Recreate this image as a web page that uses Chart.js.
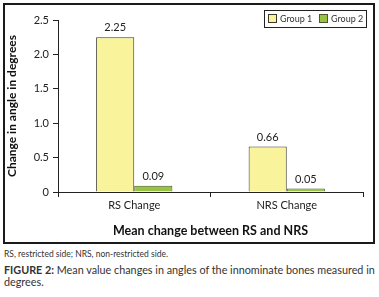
<!DOCTYPE html>
<html>
<head>
<meta charset="utf-8">
<script src="https://cdn.jsdelivr.net/npm/chart.js@4"></script>
<style>
    body { margin: 0; background: #fff; font-family: Lato, sans-serif; }
    #frame {
        position: absolute; left: 3px; top: 3px;
        width: 368px; height: 237px;
        border: 2px solid #1a1a1a;
    }
    #frame canvas { display: block; }
    .note { position: absolute; left: 4px; top: 249px; font-size: 8.5px; color: #333; }
    .caption {
        position: absolute; left: 4px; top: 264px; width: 374px;
        font-size: 10.8px; line-height: 11.5px; color: #333;
    }
    .caption b { font-weight: 700; }
</style>
</head>
<body>
<div id="frame"><canvas id="chart" width="368" height="237"></canvas></div>
<div class="note">RS, restricted side; NRS, non-restricted side.</div>
<div class="caption"><b>FIGURE 2:</b> Mean value changes in angles of the innominate bones measured in degrees.</div>
<script>
const categories = ["RS Change", "NRS Change"];
const group1 = [2.25, 0.66];
const group2 = [0.09, 0.05];
const seriesNames = ["Group 1", "Group 2"];

const fontFamily = "Lato, sans-serif";

// value labels above each bar
const valueLabels = {
    id: "valueLabels",
    afterDatasetsDraw(chart) {
        const ctx = chart.ctx;
        ctx.save();
        ctx.font = "11px " + fontFamily;
        ctx.fillStyle = "#222";
        ctx.textAlign = "center";
        ctx.textBaseline = "bottom";
        chart.data.datasets.forEach((ds, i) => {
            chart.getDatasetMeta(i).data.forEach((bar, j) => {
                ctx.fillText(ds.data[j].toFixed(2), bar.x, bar.y - 4);
            });
        });
        ctx.restore();
    },
};

// boxed legend in the top right corner
const boxLegend = {
    id: "boxLegend",
    afterDraw(chart) {
        const ctx = chart.ctx;
        const x0 = 259, y0 = 5, w = 102, h = 17;
        ctx.save();
        ctx.strokeStyle = "#222";
        ctx.lineWidth = 1;
        ctx.strokeRect(x0 + 0.5, y0 + 0.5, w, h);
        ctx.font = "9px " + fontFamily;
        ctx.textBaseline = "middle";
        let x = x0 + 4;
        chart.data.datasets.forEach((ds) => {
            ctx.fillStyle = ds.backgroundColor;
            ctx.fillRect(x, y0 + 4, 9, 9);
            ctx.strokeStyle = ds.borderColor;
            ctx.strokeRect(x + 0.5, y0 + 4.5, 8, 8);
            ctx.fillStyle = "#333";
            ctx.fillText(ds.label, x + 12, y0 + h / 2 + 1);
            x += 51;
        });
        ctx.restore();
    },
};

new Chart(document.getElementById("chart"), {
    type: "bar",
    data: {
        labels: categories,
        datasets: [
            {
                label: seriesNames[0],
                data: group1,
                backgroundColor: "#f9f39b",
                borderColor: "#3a3a2a",
                borderWidth: 1,
            },
            {
                label: seriesNames[1],
                data: group2,
                backgroundColor: "#98c242",
                borderColor: "#4a5a2a",
                borderWidth: 1,
            },
        ],
    },
    options: {
        responsive: false,
        animation: false,
        layout: { padding: { left: 0, right: 10, top: 15, bottom: 0 } },
        plugins: {
            legend: { display: false },
            tooltip: { enabled: false },
        },
        datasets: {
            bar: { categoryPercentage: 0.5, barPercentage: 1.0 },
        },
        scales: {
            x: {
                grid: {
                    display: true,
                    drawOnChartArea: false,
                    drawTicks: true,
                    tickLength: 5,
                    offset: true,
                    color: "#222",
                },
                border: { color: "#222" },
                ticks: {
                    color: "#222",
                    font: { family: fontFamily, size: 11 },
                    padding: 2,
                },
                title: {
                    display: true,
                    text: "Mean change between RS and NRS",
                    color: "#111",
                    font: { family: fontFamily, size: 12.5, weight: "bold" },
                    padding: { top: 5 },
                },
                afterFit(scale) { scale.height = 50; },
            },
            y: {
                min: 0,
                max: 2.5,
                grid: {
                    display: true,
                    drawOnChartArea: false,
                    tickLength: 5,
                    color: "#222",
                },
                border: { color: "#222" },
                ticks: {
                    stepSize: 0.5,
                    color: "#222",
                    font: { family: fontFamily, size: 11 },
                    padding: 4,
                    callback: (v) => (v === 0 ? "0" : v.toFixed(1)),
                },
                title: {
                    display: true,
                    text: "Change in angle in degrees",
                    color: "#111",
                    font: { family: fontFamily, size: 12, weight: "bold" },
                    padding: { top: 0, bottom: 4 },
                },
                afterFit(scale) { scale.width = 53; },
            },
        },
    },
    plugins: [valueLabels, boxLegend],
});
</script>
</body>
</html>
